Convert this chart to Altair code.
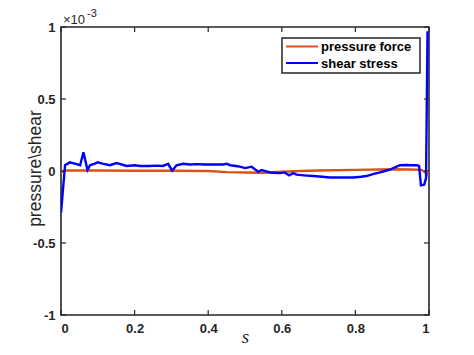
import altair as alt
import pandas as pd

# ---- data (values in units of 1e-3) ----
shear_s = [0, 0.011, 0.024, 0.04, 0.052, 0.061, 0.072, 0.079, 0.09, 0.1, 0.115, 0.133, 0.151,
           0.165, 0.178, 0.2, 0.215, 0.24, 0.26, 0.277, 0.291, 0.302, 0.314, 0.332, 0.35, 0.37,
           0.39, 0.41, 0.44, 0.45, 0.46, 0.475, 0.486, 0.5, 0.518, 0.536, 0.545, 0.568, 0.595,
           0.607, 0.62, 0.631, 0.64, 0.66, 0.685, 0.71, 0.73, 0.76, 0.794, 0.815, 0.83, 0.85,
           0.867, 0.88, 0.894, 0.912, 0.921, 0.94, 0.955, 0.967, 0.973, 0.978, 0.987, 0.992, 0.996]
shear_v = [-0.29, 0.04, 0.06, 0.05, 0.04, 0.13, 0.007, 0.04, 0.05, 0.06, 0.05, 0.04, 0.055,
           0.045, 0.035, 0.04, 0.035, 0.035, 0.037, 0.035, 0.05, 0.002, 0.04, 0.05, 0.045, 0.048,
           0.045, 0.045, 0.045, 0.05, 0.04, 0.035, 0.03, 0.02, 0.03, -0.005, 0.007, -0.01, -0.015,
           -0.01, -0.03, -0.015, -0.025, -0.03, -0.035, -0.04, -0.045, -0.045, -0.045, -0.04, -0.035, -0.02,
           -0.01, 0.0, 0.01, 0.03, 0.04, 0.042, 0.04, 0.04, 0.035, -0.1, -0.095, -0.05, 0.97]

press_s = [0, 0.01, 0.1, 0.2, 0.3, 0.4, 0.45, 0.5, 0.55, 0.6, 0.65, 0.7, 0.8, 0.9, 0.95, 0.98, 1.0]
press_v = [-0.01, 0.003, 0.003, 0.002, 0.002, 0.0, -0.008, -0.01, -0.012, -0.005, 0.0, 0.003,
           0.008, 0.012, 0.01, 0.008, -0.03]

series_names = ["pressure force", "shear stress"]
series_colors = ["#D95319", "#0000FF"]

x_ticks = [0, 0.2, 0.4, 0.6, 0.8, 1]
y_ticks = [-1, -0.5, 0, 0.5, 1]

df = pd.concat([
    pd.DataFrame({"s": press_s, "v": press_v, "series": series_names[0], "o": range(len(press_s))}),
    pd.DataFrame({"s": shear_s, "v": shear_v, "series": series_names[1], "o": range(len(shear_s))}),
])
xt = pd.DataFrame({"t": x_ticks})
yt = pd.DataFrame({"t": y_ticks})
one = pd.DataFrame({"a": [1]})

W, H = 368, 288
FONT = "Liberation Sans"
INK = "#262626"

xscale = alt.Scale(domain=[0, 1], nice=False, zero=False)
yscale = alt.Scale(domain=[-1, 1], nice=False, zero=False)

lines = alt.Chart(df).mark_line(strokeWidth=2.4, clip=True).encode(
    x=alt.X("s:Q", scale=xscale, axis=alt.Axis(
        values=x_ticks, labelExpr="toString(datum.value)", ticks=False, domain=False, grid=False,
        labelFont=FONT, labelFontSize=13, labelFontWeight="bold", labelColor=INK,
        labelPadding=7, title="s", titleFont="Liberation Serif", titleFontStyle="italic",
        titleFontWeight="normal", titleFontSize=19, titleColor=INK,
        titleBaseline="alphabetic", titleY=27, titleX=184)),
    y=alt.Y("v:Q", scale=yscale, axis=alt.Axis(
        values=y_ticks, labelExpr="toString(datum.value)", ticks=False, domain=False, grid=False,
        labelFont=FONT, labelFontSize=13, labelFontWeight="bold", labelColor=INK,
        labelPadding=6, title="pressure\\shear", titleFont=FONT, titleFontWeight="normal",
        titleFontSize=17.5, titleColor=INK, titleBaseline="alphabetic", titleX=-21,
        titleY=141, titleAngle=270, titleAlign="center")),
    color=alt.Color("series:N", scale=alt.Scale(domain=series_names, range=series_colors),
                    legend=None),
    order="o:Q",
)

xb = alt.Chart(xt).mark_rule(color=INK, strokeWidth=1.2).encode(
    x=alt.X("t:Q", scale=xscale), y=alt.value(H), y2=alt.value(H - 5))
xtop = alt.Chart(xt).mark_rule(color=INK, strokeWidth=1.2).encode(
    x=alt.X("t:Q", scale=xscale), y=alt.value(0), y2=alt.value(5))
yl = alt.Chart(yt).mark_rule(color=INK, strokeWidth=1.2).encode(
    y=alt.Y("t:Q", scale=yscale), x=alt.value(0), x2=alt.value(5))
yr = alt.Chart(yt).mark_rule(color=INK, strokeWidth=1.2).encode(
    y=alt.Y("t:Q", scale=yscale), x=alt.value(W), x2=alt.value(W - 5))

exp_base = alt.Chart(one).mark_text(
    text="×10", font=FONT, fontSize=13, align="left", baseline="alphabetic", color=INK
).encode(x=alt.value(2), y=alt.value(-3))
exp_sup = alt.Chart(one).mark_text(
    text="-3", font=FONT, fontSize=11, align="left", baseline="alphabetic", color=INK
).encode(x=alt.value(26), y=alt.value(-10))

# legend drawn by hand (MATLAB style box)
leg_box = alt.Chart(one).mark_rect(fill="white", stroke=INK, strokeWidth=1.5).encode(
    x=alt.value(221), x2=alt.value(359), y=alt.value(11), y2=alt.value(46))
leg_layers = [leg_box]
for i, (name, col) in enumerate(zip(series_names, series_colors)):
    yy = 19.5 + i * 16.5
    leg_layers.append(alt.Chart(one).mark_rule(color=col, strokeWidth=2).encode(
        x=alt.value(225), x2=alt.value(257), y=alt.value(yy)))
    leg_layers.append(alt.Chart(one).mark_text(
        text=name, font=FONT, fontSize=13, fontWeight="bold", align="left",
        baseline="middle", color="black").encode(x=alt.value(260), y=alt.value(yy + 0.5)))

chart = alt.layer(lines, xb, xtop, yl, yr, exp_base, exp_sup, *leg_layers).properties(
    width=W, height=H,
    autosize=alt.AutoSizeParams(type="none"),
    padding={"left": 61, "top": 27, "right": 45, "bottom": 40},
    background="white",
).configure_view(stroke=INK, strokeWidth=1.6)

chart.save("out.html", embed_options={"renderer": "svg", "actions": False})
